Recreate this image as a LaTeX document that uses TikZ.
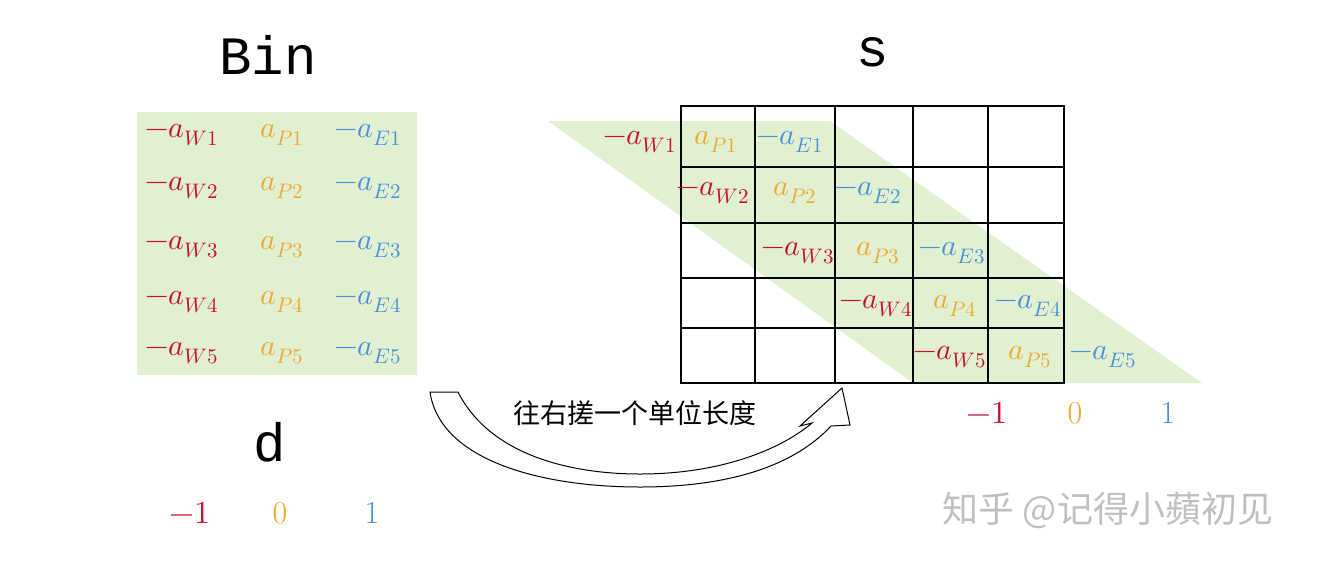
\documentclass[tikz,border=0pt]{standalone}
\usepackage{fontspec}
\usepackage{unicode-math}
\setmathfont{Latin Modern Math}
\setmonofont{Liberation Mono}
\newfontfamily\cjk{Noto Sans CJK SC}
\definecolor{cr}{RGB}{200,16,46}
\definecolor{co}{RGB}{238,168,50}
\definecolor{cb}{RGB}{75,145,215}
\definecolor{gfill}{RGB}{226,240,210}
\begin{document}
\begin{tikzpicture}[x=1pt,y=-1pt,
  lab/.style={font=\fontsize{30}{34}\selectfont},
  ttl/.style={font=\fontsize{54}{58}\selectfont\ttfamily},
  num/.style={font=\fontsize{32}{36}\selectfont}]
\useasboundingbox (0,0) rectangle (1322,563);
% Bin
\fill[gfill] (137,112) rectangle (417,375);
\node[ttl] (bin) at (268,55) {Bin};
\foreach \i/\y in {1/135,2/188,3/247,4/302,5/353}{
  \node[lab,text=cr] (bw\i) at (182,\y) {$-a_{W\i}$};
  \node[lab,text=co] (bp\i) at (282,\y) {$a_{P\i}$};
  \node[lab,text=cb] (be\i) at (368,\y) {$-a_{E\i}$};
}
\node[ttl] (d) at (270,442) {d};
\node[num,text=cr] (dm) at (190,513) {$-1$};
\node[num,text=co] (d0) at (280,513) {0};
\node[num,text=cb] (d1) at (372,513) {1};
% s
\node[ttl] (s) at (873,52) {s};
\fill[gfill] (548,121) -- (830,121) -- (1202,383) -- (913,383) -- cycle;
\draw[line width=1.5pt] (681,106) rectangle (1064,383);
\foreach \x in {755,835,913,988}{\draw[line width=1.5pt] (\x,106) -- (\x,383);}
\foreach \y in {167,223,278,328}{\draw[line width=1.5pt] (681,\y) -- (1064,\y);}
\foreach \i/\y/\xa/\xb/\xc in {1/142/640/716/790,2/193/713/795/868,3/253/798/878/952,4/306/876/955/1028,5/357/950/1030/1103}{
  \node[lab,text=cr] (sw\i) at (\xa,\y) {$-a_{W\i}$};
  \node[lab,text=co] (sp\i) at (\xb,\y) {$a_{P\i}$};
  \node[lab,text=cb] (se\i) at (\xc,\y) {$-a_{E\i}$};
}
\node[num,text=cr] (sm) at (987,413) {$-1$};
\node[num,text=co] (s0) at (1075,413) {0};
\node[num,text=cb] (s1) at (1168,413) {1};
% arrow
\draw[fill=white,line width=1pt,line join=miter] (430,392) -- (458,392)
  .. controls (490,455) and (570,474) .. (640,474)
  .. controls (720,474) and (780,450) .. (812,423)
  -- (800,426) -- (842,388) -- (850,425) -- (831,426)
  .. controls (790,470) and (720,487) .. (640,487)
  .. controls (540,487) and (440,460) .. (430,392) -- cycle;
\node[font=\cjk\fontsize{27}{30}\selectfont] (lbl) at (635,413) {往右搓一个单位长度};
\node[font=\cjk\fontsize{36}{40}\selectfont,text=black!25] (wm) at (1108,510) {知乎 @记得小蘋初见};
\end{tikzpicture}
\end{document}
